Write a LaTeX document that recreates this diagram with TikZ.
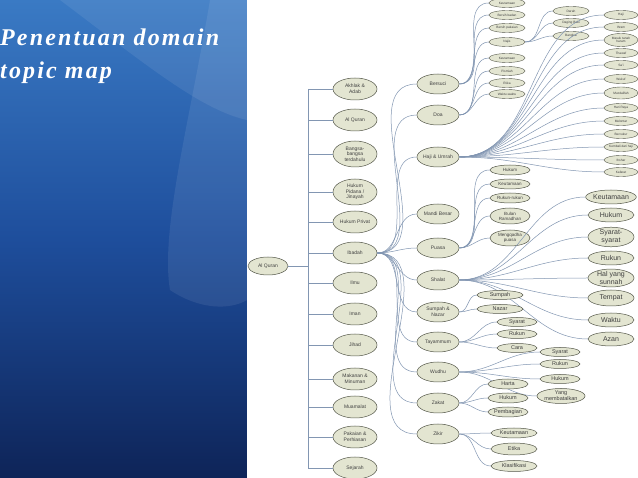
\documentclass[tikz,border=0pt]{standalone}
\usepackage{fontspec}
\setmainfont{Liberation Sans}
\newfontfamily\titlefont[LetterSpace=9]{Liberation Serif}
\usetikzlibrary{shapes.geometric}
\definecolor{nodefill}{HTML}{E3E5D1}
\definecolor{nodeline}{HTML}{55584A}
\definecolor{edge}{HTML}{8296B2}
\tikzset{
 nd/.style={ellipse,draw=nodeline,fill=nodefill,line width=0.5pt,inner sep=0pt,align=center,text=black!75},
 lone/.style={nd,minimum width=44pt,minimum height=22pt,font=\fontsize{5}{5.6}\selectfont},
 ltwo/.style={nd,minimum width=42pt,minimum height=20pt,font=\fontsize{5}{5.6}\selectfont},
 lsm/.style={nd,minimum width=36pt,minimum height=9pt,line width=0.4pt,font=\fontsize{3.2}{3.5}\selectfont},
 lmid/.style={nd,minimum width=40pt,minimum height=11pt,font=\fontsize{5.5}{6}\selectfont},
 lbig/.style={nd,minimum width=46pt,minimum height=15pt,font=\fontsize{7}{7.5}\selectfont},
 ed/.style={draw=edge,line width=0.5pt},
 ttl/.style={anchor=base west,text=white,inner sep=0pt,font=\titlefont\bfseries\itshape\fontsize{24}{26}\selectfont},
}
\begin{document}
\begin{tikzpicture}[x=1pt,y=-1pt]
\useasboundingbox (0,0) rectangle (638,478);
% left panel
\shade[top color={rgb,255:red,58;green,122;blue,196}, bottom color={rgb,255:red,14;green,36;blue,88}, middle color={rgb,255:red,30;green,78;blue,156}] (0,0) rectangle (247,478);
\fill[white,opacity=0.08] (60,0) .. controls (140,60) and (200,110) .. (247,120) -- (247,0) -- cycle;
\fill[white,opacity=0.08] (210,0) .. controls (190,120) and (160,230) .. (170,290) .. controls (200,310) and (230,310) .. (247,300) -- (247,0) -- cycle;
\node[ttl] (t1) at (0,46) {Penentuan domain};
\node[ttl] (t2) at (0,79) {topic map};
\fill[white] (247,0) rectangle (638,478);
% root
\node[ltwo,minimum width=40pt,minimum height=18pt] (root) at (268,266) {Al Quran};
\coordinate (sp) at (308,266);
\coordinate (spT) at (308,89);
\coordinate (spB) at (308,468);
\draw[ed] (root) -- (sp);
\draw[ed] (spT) -- (spB);
% level 1
\foreach \n/\y/\t/\h in {a1/89/{Akhlak \&\\Adab}/22,a2/120/{Al Quran}/22,a3/154/{Bangsa-\\bangsa\\terdahulu}/26,a4/192/{Hukum\\Pidana /\\Jinayah}/26,a5/222/{Hukum Privat}/22,a6/253/{Ibadah}/22,a7/283/{Ilmu}/22,a8/314/{Iman}/22,a9/345/{Jihad}/22,a10/379/{Makanan \&\\Minuman}/22,a11/407/{Muamalat}/22,a12/437/{Pakaian \&\\Perhiasan}/22,a13/468/{Sejarah}/22}{
 \node[lone,minimum height=\h pt] (\n) at (355,\y) {\t};
 \coordinate (c\n) at (308,\y);
 \draw[ed] (c\n) -- (\n.west);
}
% level 2
\foreach \n/\y/\t in {b1/84/{Bersuci},b2/115/{Doa},b3/157/{Haji \& Umrah},b4/214/{Mandi Besar},b5/248/{Puasa},b6/280/{Shalat},b7/312/{Sumpah \&\\Nazar},b8/342/{Tayammum},b9/372/{Wudhu},b10/403/{Zakat},b11/434/{Zikir}}{
 \node[ltwo] (\n) at (438,\y) {\t};
 \draw[ed] (a6.east) to[out=0,in=180] (\n.west);
}
% Bersuci / Doa children
\foreach \n/\y/\t/\p in {c1/3/Keutamaan/b1,c2/15/Bersih badan/b1,c3/28/Bersih pakaian/b1,c4/42/Najis/b1,c5/58/Keutamaan/b2,c6/71/Pismiah/b2,c7/83/Etika/b2,c8/94/Waktu-waktu/b2}{
 \node[lsm] (\n) at (507,\y) {\t};
 \draw[ed] (\p.east) to[out=0,in=180] (\n.west);
}
\foreach \n/\y/\t in {d1/11/Darah,d2/23/Daging Babi,d3/36/Bangkai}{
 \node[lsm] (\n) at (571,\y) {\t};
 \draw[ed] (c4.east) to[out=0,in=180] (\n.west);
}
% Haji children
\foreach \n/\y/\t in {h1/15/Haji,h2/27/Ihram,h4/53/Thawaf,h5/65/Sa'i,h6/79/Wukuf,h8/108/Hari Raya,h9/121/Melontar,h10/134/Bercukur,h11/147/Kembali dari haji,h12/160/Ihshar,h13/172/Kafarat}{
 \node[lsm,minimum width=34pt] (\n) at (621,\y) {\t};
 \draw[ed] (b3.east) to[out=0,in=180] (\n.west);
}
\node[lsm,minimum width=34pt,minimum height=13pt] (h3) at (621,40) {Masuk tanah\\haram};
\node[lsm,minimum width=34pt,minimum height=12pt] (h7) at (621,93) {Muzdalifah};
\draw[ed] (b3.east) to[out=0,in=180] (h3.west);
\draw[ed] (b3.east) to[out=0,in=180] (h7.west);
% Puasa children
\foreach \n/\y/\t/\h in {p1/170/Hukum/10,p2/184/Keutamaan/10,p3/198/Rukun-rukun/10,p4/216/{Bulan\\Ramadhan}/16,p5/238/{Mengqadha\\puasa}/16}{
 \node[lmid,minimum height=\h pt,font=\fontsize{4.5}{5}\selectfont] (\n) at (510,\y) {\t};
 \draw[ed] (b5.east) to[out=0,in=180] (\n.west);
}
% Shalat children
\foreach \n/\y/\t/\h in {s1/197/Keutamaan/14,s2/215/Hukum/14,s3/237/{Syarat-\\syarat}/18,s4/258/Rukun/14,s5/278/{Hal yang\\sunnah}/17,s6/298/Tempat/16,s7/320/Waktu/14,s8/339/Azan/14}{
 \node[lbig,minimum height=\h pt] (\n) at (611,\y) {\t};
 \draw[ed] (b6.east) to[out=0,in=180] (\n.west);
}
% Sumpah
\foreach \n/\y/\t in {m1/295/Sumpah,m2/309/Nazar}{
 \node[lmid,minimum width=46pt,minimum height=9pt] (\n) at (500,\y) {\t};
 \draw[ed] (b7.east) to[out=0,in=180] (\n.west);
}
% Tayammum
\foreach \n/\y/\t in {t3/322/Syarat,t4/334/Rukun,t5/348/Cara}{
 \node[lmid,minimum width=40pt,minimum height=9pt] (\n) at (517,\y) {\t};
 \draw[ed] (b8.east) to[out=0,in=180] (\n.west);
}
% Wudhu
\foreach \n/\y/\t in {w1/352/Syarat,w2/364/Rukun,w3/379/Hukum}{
 \node[lmid,minimum width=40pt,minimum height=9pt] (\n) at (560,\y) {\t};
 \draw[ed] (b9.east) to[out=0,in=180] (\n.west);
}
\node[lmid,minimum width=48pt,minimum height=15pt] (w4) at (561,396) {Yang\\membatalkan};
\draw[ed] (b9.east) to[out=0,in=180] (w4.west);
% Zakat
\foreach \n/\y/\t in {z1/384/Harta,z2/398/Hukum,z3/412/Pembagian}{
 \node[lmid,minimum width=40pt,minimum height=10pt] (\n) at (508,\y) {\t};
 \draw[ed] (b10.east) to[out=0,in=180] (\n.west);
}
% Zikir
\foreach \n/\y/\t/\h in {k1/433/Keutamaan/10,k2/449/Etika/12,k3/466/Klasifikasi/11}{
 \node[lmid,minimum width=46pt,minimum height=\h pt] (\n) at (514,\y) {\t};
 \draw[ed] (b11.east) to[out=0,in=180] (\n.west);
}
\end{tikzpicture}
\end{document}
